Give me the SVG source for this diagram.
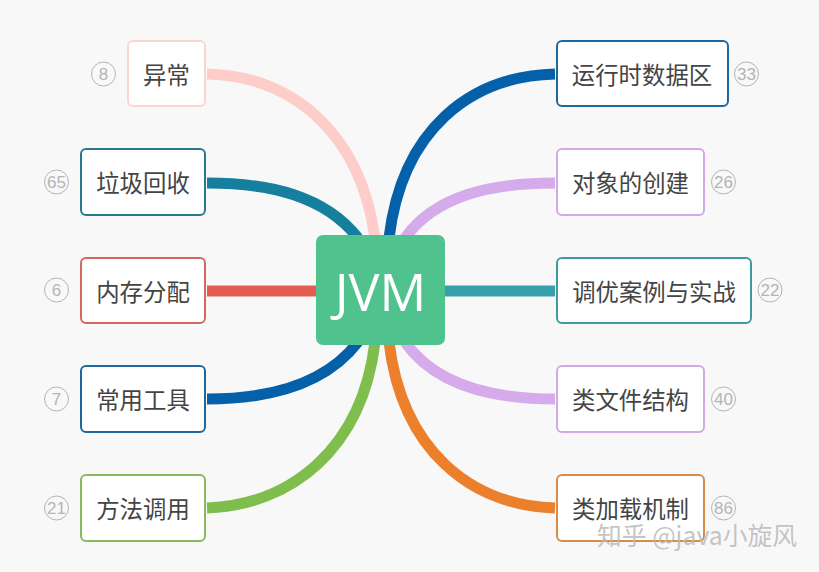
<svg xmlns="http://www.w3.org/2000/svg" width="819" height="572" viewBox="0 0 819 572">
<style>
text{font-family:"Noto Sans CJK SC","Liberation Sans",sans-serif}
.l{font-size:23.4px;fill:#444;text-anchor:middle;dominant-baseline:central}
.n{fill:#fff;stroke-width:2}
.c{fill:none;stroke:#b4b4b4;stroke-width:1}
.b{font-family:"Liberation Sans",sans-serif;font-size:17px;fill:#b4b4b4;text-anchor:middle;dominant-baseline:central}
#connectors path{fill:none;stroke-width:11}
</style>
<rect width="819" height="572" fill="#f8f8f9"/>
<g id="connectors">
<path d="M207 74C290 76 360 130 375 238" stroke="#fdcdca"/>
<path d="M207 183C270 183 325 196 358 238" stroke="#157f9d"/>
<path d="M207 291H318" stroke="#e35d51"/>
<path d="M207 399C270 399 325 385 358 342" stroke="#0460a9"/>
<path d="M207 508C290 505 362 450 375 342" stroke="#7fbd4c"/>
<path d="M555 74C470 76 402 130 389 238" stroke="#0460a9"/>
<path d="M555 183C490 183 435 196 405 238" stroke="#d6abeb"/>
<path d="M555 291H443" stroke="#36a0ab"/>
<path d="M555 399C490 399 435 385 405 342" stroke="#d6abeb"/>
<path d="M555 508C470 505 402 450 389 342" stroke="#ec7f2c"/>
</g>
<g id="center"><rect x="316" y="235" width="129" height="110" rx="7" fill="#50c28d"/><text x="380.500" y="290" font-size="52" fill="#fff" text-anchor="middle" dominant-baseline="central" style="font-family:'Open Sans','Liberation Sans',sans-serif">JVM</text></g>
<g id="n1"><rect class="n" x="128" y="41" width="77" height="65" rx="5" stroke="#fbd5d2"/><text class="l" x="166.500" y="73.500">异常</text><circle class="c" cx="103.500" cy="74" r="12"/><text class="b" x="103.500" y="74">8</text></g>
<g id="n2"><rect class="n" x="81" y="149" width="124" height="66" rx="5" stroke="#277a8d"/><text class="l" x="143" y="181.500">垃圾回收</text><circle class="c" cx="56.500" cy="182" r="12"/><text class="b" x="56.500" y="182">65</text></g>
<g id="n3"><rect class="n" x="81" y="258" width="124" height="65" rx="5" stroke="#d4675e"/><text class="l" x="143" y="290.500">内存分配</text><circle class="c" cx="56.500" cy="290" r="12"/><text class="b" x="56.500" y="290">6</text></g>
<g id="n4"><rect class="n" x="81" y="366" width="124" height="66" rx="5" stroke="#1d689f"/><text class="l" x="143" y="398.500">常用工具</text><circle class="c" cx="56.500" cy="399" r="12"/><text class="b" x="56.500" y="399">7</text></g>
<g id="n5"><rect class="n" x="81" y="475" width="124" height="66" rx="5" stroke="#88b95c"/><text class="l" x="143" y="507.500">方法调用</text><circle class="c" cx="56.500" cy="508" r="12"/><text class="b" x="56.500" y="508">21</text></g>
<g id="n6"><rect class="n" x="557" y="41" width="171" height="65" rx="5" stroke="#1d689f"/><text class="l" x="642" y="73.500">运行时数据区</text><circle class="c" cx="746.500" cy="74" r="12"/><text class="b" x="746.500" y="74">33</text></g>
<g id="n7"><rect class="n" x="557" y="149" width="147" height="66" rx="5" stroke="#d3a9e3"/><text class="l" x="630.500" y="181.500">对象的创建</text><circle class="c" cx="723.500" cy="182" r="12"/><text class="b" x="723.500" y="182">26</text></g>
<g id="n8"><rect class="n" x="557" y="258" width="194" height="65" rx="5" stroke="#3d9aa3"/><text class="l" x="654" y="290.500">调优案例与实战</text><circle class="c" cx="770" cy="290" r="12"/><text class="b" x="770" y="290">22</text></g>
<g id="n9"><rect class="n" x="557" y="366" width="147" height="66" rx="5" stroke="#d3a9e3"/><text class="l" x="630.500" y="398.500">类文件结构</text><circle class="c" cx="723.500" cy="399" r="12"/><text class="b" x="723.500" y="399">40</text></g>
<g id="n10"><rect class="n" x="557" y="475" width="147" height="66" rx="5" stroke="#d98a45"/><text class="l" x="630.500" y="507.500">类加载机制</text><circle class="c" cx="723.500" cy="508" r="12"/><text class="b" x="723.500" y="508">86</text></g>
<text x="597" y="545" font-size="24.800" fill="#bdbdbd" fill-opacity="0.9">知乎 @java小旋风</text>
</svg>
